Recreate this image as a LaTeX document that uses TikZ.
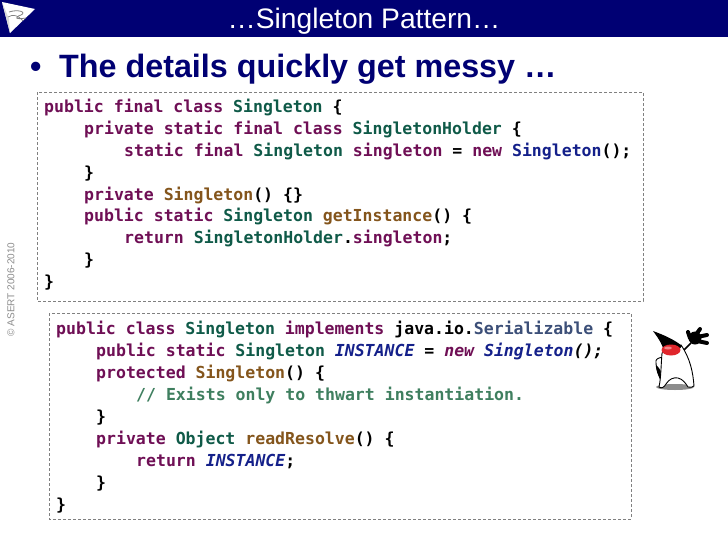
\documentclass[tikz,border=0pt]{standalone}
\usepackage{fontspec}
\setmainfont{Liberation Sans}
\newfontfamily\codefont{DejaVu Sans Mono}[Ligatures=NoCommon]
\definecolor{band}{HTML}{000073}
\definecolor{kwc}{HTML}{6F0F55}
\definecolor{typc}{HTML}{0F5A48}
\definecolor{metc}{HTML}{84551C}
\definecolor{insc}{HTML}{14208A}
\definecolor{cmtc}{HTML}{3F7F5F}
\definecolor{serc}{HTML}{3C4F78}
\definecolor{boxc}{HTML}{808080}
\definecolor{nosec}{HTML}{E0262C}
\newcommand{\kw}[1]{\textcolor{kwc}{#1}}
\newcommand{\typ}[1]{\textcolor{typc}{#1}}
\newcommand{\met}[1]{\textcolor{metc}{#1}}
\newcommand{\ins}[1]{\textcolor{insc}{#1}}
\newcommand{\cmt}[1]{\textcolor{cmtc}{#1}}
\newcommand{\ser}[1]{\textcolor{serc}{#1}}
\tikzset{
  codeline/.style={anchor=base west,inner sep=0pt,font=\codefont\bfseries\fontsize{16.52}{20}\selectfont},
  codebox/.style={draw=boxc,line width=0.7pt,dash pattern=on 3pt off 2pt,fill=white},
  headtext/.style={inner sep=0pt,anchor=base west,text=band,font=\bfseries\fontsize{32.3}{36}\selectfont},
  finger/.style={black,line width=4pt,line cap=round},
}
\begin{document}
\begin{tikzpicture}[x=1pt,y=-1pt]
\useasboundingbox (0,0) rectangle (728,546);
\fill[white] (0,0) rectangle (728,546);
\fill[band] (0,0) rectangle (728,37);
% logo
\fill[white] (2,2) -- (35,9) -- (10,33) -- cycle;
\fill[black!15] (2,2) -- (10,33) -- (9,19) -- cycle;
\draw[black!50,line width=0.8pt] (9,12) .. controls (18,9) and (27,12) .. (21,15) .. controls (15,17) and (14,20) .. (26,18);
\draw[black!50,line width=0.7pt] (8,17) .. controls (13,14) and (18,15) .. (23,21);
\node[inner sep=0pt,text=white,font=\fontsize{28.2}{32}\selectfont] (title) at (364,21) {…Singleton Pattern…};
\node[headtext] (bullet) at (30,77) {•};
\node[headtext] (head) at (59,77) {The details quickly get messy …};
\node[inner sep=0pt,rotate=90,text=black!45,font=\fontsize{10}{12}\selectfont] (copy) at (11,289.5) {© ASERT 2006-2010};
\draw[codebox] (37,92) rectangle (643,301);
\draw[codebox] (49,313) rectangle (631,519);
\node[codeline] (a1) at (44,112) {\kw{public final class} \typ{Singleton} \{};
\node[codeline] (a2) at (84,134) {\kw{private static final class} \typ{SingletonHolder} \{};
\node[codeline] (a3) at (124,156) {\kw{static final} \typ{Singleton} \kw{singleton} = \kw{new} \ins{Singleton}();};
\node[codeline] (a4) at (84,178) {\}};
\node[codeline] (a5) at (84,200) {\kw{private} \met{Singleton}() \{\}};
\node[codeline] (a6) at (84,221) {\kw{public static} \typ{Singleton} \met{getInstance}() \{};
\node[codeline] (a7) at (124,243) {\kw{return} \typ{SingletonHolder}.\kw{singleton};};
\node[codeline] (a8) at (84,265) {\}};
\node[codeline] (a9) at (44,287) {\}};
\node[codeline] (b1) at (56,334) {\kw{public class} \typ{Singleton} \kw{implements} java.io.\ser{Serializable} \{};
\node[codeline] (b2) at (96,356) {\kw{public static} \typ{Singleton} \ins{\itshape INSTANCE} {\itshape = \kw{new} \ins{Singleton}();}};
\node[codeline] (b3) at (96,378) {\kw{protected} \met{Singleton}() \{};
\node[codeline] (b4) at (136,400) {\cmt{// Exists only to thwart instantiation.}};
\node[codeline] (b5) at (96,422) {\}};
\node[codeline] (b6) at (96,444) {\kw{private} \typ{Object} \met{readResolve}() \{};
\node[codeline] (b7) at (136,466) {\kw{return} \ins{\itshape INSTANCE};};
\node[codeline] (b8) at (96,488) {\}};
\node[codeline] (b9) at (56,510) {\}};
% Duke: shadow
\fill[black!45] (675,387) ellipse (19pt and 3pt);
% arm raised
\draw[black,line width=1.6pt] (683,351) -- (691,343);
% hand
\fill[black] (695,338) circle (6.5pt);
\draw[finger] (690,338) -- (688,332);
\draw[finger] (695,336) -- (700,329);
\draw[finger] (697,337) -- (707,335);
\draw[finger] (697,341) -- (707,343);
% left arm
\draw[black,line width=0.9pt,fill=white] (663,357) .. controls (658,358) and (655,359) .. (656,363) .. controls (656,368) and (658,372) .. (660,378) -- (664,372) -- cycle;
\fill[black] (656,365) .. controls (659,367) and (661,371) .. (662,376) -- (660,379) .. controls (658,375) and (656,371) .. (656,365) -- cycle;
% body
\draw[black,line width=0.9pt,fill=white] (662,353) .. controls (661,365) and (661,378) .. (659,387) .. controls (662,389) and (664,387) .. (666,384) .. controls (669,379) and (674,377) .. (678,378) .. controls (683,379) and (686,384) .. (688,387) .. controls (690,388) and (693,387) .. (694,386) .. controls (693,372) and (690,358) .. (681,345) -- cycle;
% head cone
\fill[black] (653,331) .. controls (664,335) and (675,340) .. (682,346) -- (677,352) -- (664,353) .. controls (664,347) and (659,339) .. (653,331) -- cycle;
% nose
\fill[nosec] (671,350) ellipse (9.5pt and 5.5pt);
\fill[nosec!55!white] (668,348) ellipse (4pt and 1.5pt);
\end{tikzpicture}
\end{document}
